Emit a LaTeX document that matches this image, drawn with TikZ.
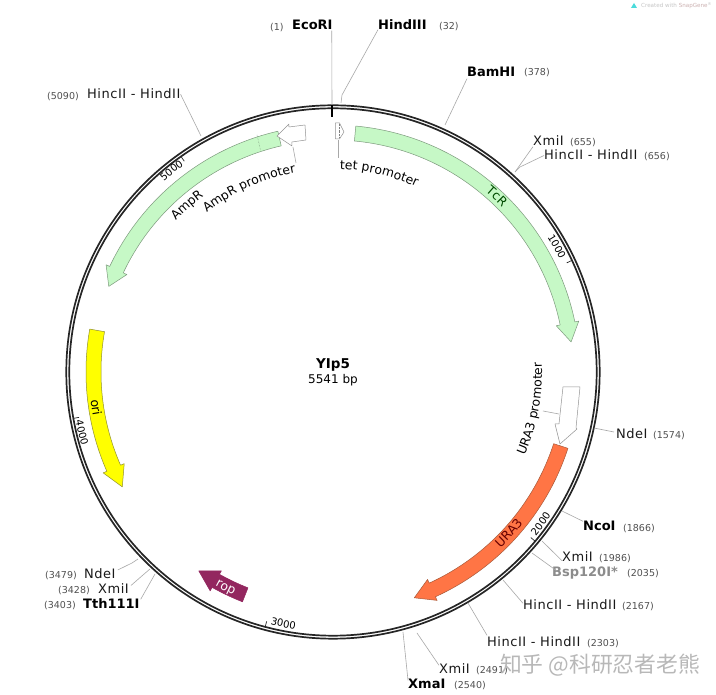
\documentclass[tikz,border=0pt]{standalone}
\usepackage{fontspec}
\setmainfont{DejaVu Sans}
\newfontfamily\cjkwm{Noto Sans CJK SC}
\newfontfamily\spacedfont[LetterSpace=4]{DejaVu Sans}
\usetikzlibrary{decorations.text}
\definecolor{ringc}{HTML}{262626}
\definecolor{greenf}{HTML}{C6F8C6}
\definecolor{greend}{HTML}{7D9A7D}
\definecolor{oranf}{HTML}{FF7545}
\definecolor{orand}{HTML}{A85A3A}
\definecolor{yelf}{HTML}{FFFF00}
\definecolor{yeld}{HTML}{8F8F30}
\definecolor{ropf}{HTML}{93275F}
\definecolor{leadc}{HTML}{A8A8A8}
\definecolor{numc}{HTML}{505050}
\tikzset{
  ringline/.style={draw=ringc,line width=1.7pt},
  leader/.style={draw=leadc,line width=.6pt},
  feat/.style={line width=.5pt,line join=round},
  promo/.style={draw=gray!85,fill=white,line width=.5pt,line join=round},
  site/.style={inner sep=0pt,anchor=west,text height=9pt,text depth=0pt,font=\fontsize{13}{13}\selectfont\spacedfont,text=black!90},
  bsite/.style={inner sep=0pt,anchor=west,text height=9pt,text depth=0pt,font=\fontsize{13}{13}\selectfont\bfseries,text=black},
  gsite/.style={bsite,text=gray!90},
  bppos/.style={inner sep=0pt,anchor=west,text height=7pt,text depth=0pt,font=\fontsize{9.5}{10}\selectfont,text=numc},
  mapmark/.style={draw=ringc,line width=.7pt},
}
% clockwise angle from the top: a
\newcommand{\featarrow}[5]{% start, neck, tip, fill, stroke
  \draw[feat,fill=#4,draw=#5] ({90-(#1)}:247) arc[start angle={90-(#1)},end angle={90-(#2)},radius=247]
    -- ({90-(#2)}:251) -- ({90-(#3)}:240) -- ({90-(#2)}:228) -- ({90-(#2)}:232)
    arc[start angle={90-(#2)},end angle={90-(#1)},radius=232] -- cycle;}
\newcommand{\arctext}[5]{% a1, a2, r, format, text
  \path[decorate,decoration={text along path,text align=center,text={|#4|#5}}]
    ({90-(#1)}:#3) arc[start angle={90-(#1)},end angle={90-(#2)},radius=#3];}
\newcommand{\fA}{\fontsize{12.4}{13}\selectfont}
\newcommand{\fB}{\fontsize{10}{10}\selectfont}
\begin{document}
\begin{tikzpicture}[x=1pt,y=1pt]
\useasboundingbox (-333,-323) rectangle (383,372);
\fill[white] (-333,-323) rectangle (383,372);
% ring
\draw[ringline] (0,0) circle[radius=266.7];
\draw[ringline] (0,0) circle[radius=263.7];
% features
\featarrow{5.3}{78.3}{82.8}{greenf}{greend}
\featarrow{-12.9}{-64.7}{-69.1}{greenf}{greend}
\featarrow{108}{155.5}{160.2}{oranf}{orand}
\featarrow{-80}{-113.7}{-118.6}{yelf}{yeld}
\featarrow{201.5}{209.3}{214}{ropf}{ropf}
% ticks
\foreach \a in {64.97,129.93,194.9,259.87,324.8}{\draw[mapmark] ({90-\a}:258) -- ({90-\a}:264);}
% feature names
\arctext{1.7}{24.5}{203}{\fA}{tet promoter}
\arctext{-39}{-10}{203}{\fA}{AmpR promoter}
\arctext{-46.5}{-36}{218}{\fA}{AmpR}
\arctext{38}{48}{236}{\fA\color{green!30!black}}{TcR}
\arctext{139}{126}{243}{\fA\color{red!40!black}}{URA3}
\arctext{-92}{-105}{244}{\fA}{ori}
\arctext{213}{200}{244}{\fA\color{white}}{rop}
\arctext{114}{87}{209}{\fA}{URA3 promoter}
% map numbers
\arctext{57.5}{64}{253}{\fB}{1000}
\arctext{129.3}{123}{261}{\fB}{2000}
\arctext{194.3}{188}{260}{\fB}{3000}
\arctext{-100.6}{-106.5}{262}{\fB}{4000}
\arctext{-41.8}{-35.6}{255}{\fB}{5000}
\begin{scope}[x=1pt,y=-1pt,shift={(-333pt,372pt)}]
% promoters
\draw[promo] (277,136) -- (289,124) -- (289,127) -- (305,125) -- (306,140) -- (292,142) -- (292,146) -- cycle;
\draw[promo] (563,387) -- (580,387) -- (576,428) -- (577,429) -- (560,444) -- (555,424) -- (559,424) -- cycle;
\draw[promo] (335.5,123) -- (339.5,123) -- (344,132) -- (339.5,139) -- (335.5,139) -- cycle;
\draw[gray,densely dotted,line width=.4pt] (339.5,124) -- (339.5,138);
\draw[greend,densely dotted,line width=.5pt] (257,135) -- (260.5,150);
% promoter pointers
\coordinate (ptet) at (338,140);
\coordinate (pamp) at (293,147);
\coordinate (pura) at (559,414);
\coordinate (ltet) at (338,158);
\coordinate (lamp) at (296,163);
\coordinate (lura) at (543,411);
\draw[leader] (ptet) -- (ltet);
\draw[leader] (pamp) -- (lamp);
\draw[leader] (pura) -- (lura);
% labels
\node[bppos] (p1) at (270,27) {(1)};
\node[bsite] (ecori) at (292,25) {EcoRI};
\node[bsite] (hind) at (378,25) {HindIII};
\node[bppos] (p32) at (439,26.5) {(32)};
\node[bsite] (bam) at (467,72) {BamHI};
\node[bppos] (p378) at (524,72.5) {(378)};
\node[site] (xmi655) at (533,141) {XmiI};
\node[bppos] (p655) at (570,142.5) {(655)};
\node[site] (hc656) at (544,155.5) {HincII - HindII};
\node[bppos] (p656) at (644,156.5) {(656)};
\node[site] (nde1574) at (616,434) {NdeI};
\node[bppos] (p1574) at (653,435.5) {(1574)};
\node[bsite] (nco) at (583,526) {NcoI};
\node[bppos] (p1866) at (623,528) {(1866)};
\node[site] (xmi1986) at (562,557) {XmiI};
\node[bppos] (p1986) at (599,558.5) {(1986)};
\node[gsite] (bsp) at (552,572) {Bsp120I*};
\node[bppos] (p2035) at (627,573.5) {(2035)};
\node[site] (hc2167) at (523,605) {HincII - HindII};
\node[bppos] (p2167) at (622,606.5) {(2167)};
\node[site] (hc2303) at (487,642) {HincII - HindII};
\node[bppos] (p2303) at (587,643.5) {(2303)};
\node[site] (xmi2491) at (439,669) {XmiI};
\node[bppos] (p2491) at (476,670.5) {(2491)};
\node[bsite] (xma) at (408,684) {XmaI};
\node[bppos] (p2540) at (454,685.5) {(2540)};
\node[site] (nde3479) at (84,574) {NdeI};
\node[bppos] (p3479) at (45,575.5) {(3479)};
\node[site] (xmi3428) at (98,589.5) {XmiI};
\node[bppos] (p3428) at (58,590.5) {(3428)};
\node[bsite] (tth) at (83,604) {Tth111I};
\node[bppos] (p3403) at (44,605.5) {(3403)};
\node[site] (hc5090) at (87,94) {HincII - HindII};
\node[bppos] (p5090) at (47,96) {(5090)};
% leaders
\coordinate (rEco) at (332,105);
\coordinate (tEco) at (332,117);
\coordinate (rHind) at (341,103);
\coordinate (rBam) at (445,125);
\coordinate (rXmi655) at (515,172);
\coordinate (rNde1574) at (594,428);
\coordinate (rNco) at (562,511);
\coordinate (rXmi1986) at (542,541);
\coordinate (rBsp) at (532,553);
\coordinate (rHc2167) at (503,580);
\coordinate (rHc2303) at (468,603);
\coordinate (rXmi2491) at (417,633);
\coordinate (rXma) at (403,632);
\coordinate (rTth) at (155,574);
\coordinate (rXmi3428) at (150,569);
\coordinate (rNde3479) at (138,559);
\coordinate (rHc5090) at (201,136);
\draw[leader] (ecori.south east) ++(-1,1) -- (rEco);
\draw[draw=black,line width=1.2pt] (rEco) -- (tEco);
\draw[leader] (hind.south west) -- (342,95) -- (rHind);
\draw[leader] (bam.south west) ++(0,2) -- (rBam);
\draw[leader] (xmi655.south west) ++(0,1) -- (rXmi655);
\draw[leader] (hc656.west) -- (520,167) -- (rXmi655);
\draw[leader] (nde1574.west) ++(-2,-2) -- (rNde1574);
\draw[leader] (nco.north west) -- (rNco);
\draw[leader] (xmi1986.south west) ++(0,-1) -- (rXmi1986);
\draw[leader] (bsp.north west) ++(4,3) -- (rBsp);
\draw[leader] (hc2167.north west) ++(0,3) -- (rHc2167);
\draw[leader] (hc2303.north west) ++(0,-2) -- (rHc2303);
\draw[leader] (xmi2491.north west) ++(0,1) -- (rXmi2491);
\draw[leader] (xma.north west) ++(0,1) -- (rXma);
\draw[leader] (tth.north east) ++(1,0) -- (rTth);
\draw[leader] (xmi3428.east) ++(2,-4) -- (143,575) -- (rXmi3428);
\draw[leader] (nde3479.east) ++(2,-4) -- (132,563) -- (rNde3479);
\draw[leader] (hc5090.north east) ++(0,5) -- (rHc5090);
% centre
\node[inner sep=0pt,font=\fontsize{13.5}{14}\selectfont\bfseries] (name) at (333,365) {YIp5};
\node[inner sep=0pt,font=\fontsize{12}{12}\selectfont] (size) at (333,380) {5541 bp};
% credit
\fill[teal!40!cyan!70] (634,3) -- (637,8) -- (631,8) -- cycle;
\node[inner sep=0pt,anchor=west,font=\fontsize{5.6}{6}\selectfont,text=gray!45] (credit) at (641,5.5) {Created with \textcolor{red!20!gray!50}{SnapGene}\textsuperscript{®}};
% watermark
\node[inner sep=0pt,anchor=west,font=\fontsize{21.8}{22}\selectfont\cjkwm,text=black!28] (wm) at (500,665) {知乎 @科研忍者老熊};
\end{scope}
\end{tikzpicture}
\end{document}
